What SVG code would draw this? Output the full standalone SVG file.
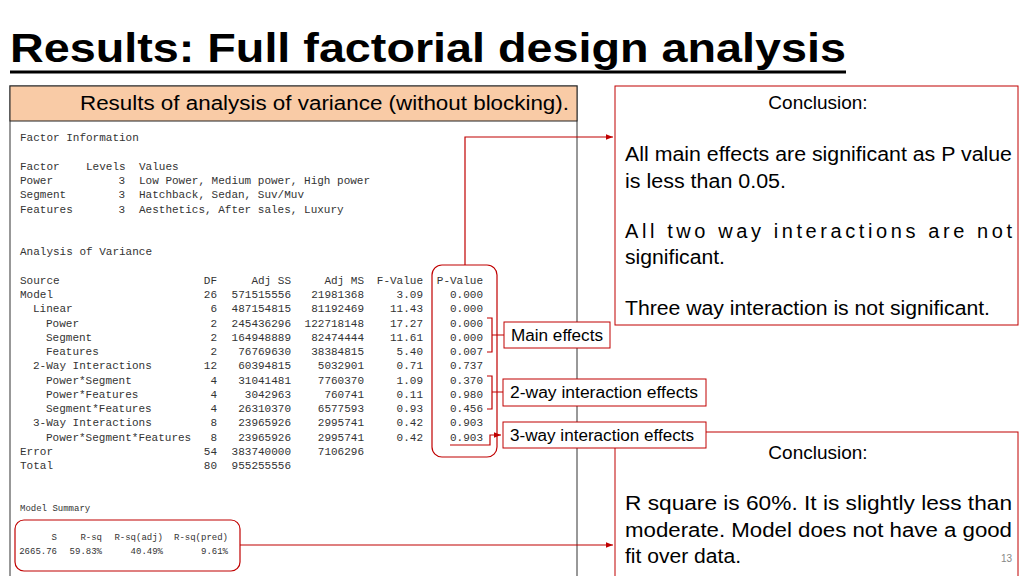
<svg xmlns="http://www.w3.org/2000/svg" width="1024" height="576" viewBox="0 0 1024 576">
<defs>
<marker id="ar" viewBox="0 0 10 10" refX="10" refY="5" markerWidth="6" markerHeight="6" orient="auto"><path d="M0,1 L10,5 L0,9 z" fill="#c00000"/></marker>
<style>
.m{font-family:"Liberation Mono",monospace;font-size:11px;fill:#333}
.ms{font-family:"Liberation Mono",monospace;font-size:9px;fill:#333}
.r{text-anchor:end}
.s{font-family:"Liberation Sans",Arial,sans-serif;fill:#000}
.ln{stroke:#c00000;stroke-width:1.2;fill:none}
.lb{fill:#fff;stroke:#c00000;stroke-width:1}
</style>
</defs>
<rect width="1024" height="576" fill="#fff"/>
<g id="title">
<text x="10" y="62" class="s" font-size="41" font-weight="bold" textLength="836" lengthAdjust="spacingAndGlyphs">Results: Full factorial design analysis</text>
<line x1="10" y1="72" x2="846" y2="72" stroke="#000" stroke-width="3"/>
</g>
<g id="panel">
<rect x="10" y="86" width="567" height="500" fill="#fff" stroke="#777" stroke-width="1.5"/>
<rect x="10" y="86" width="567" height="35" fill="#f9cba6" stroke="#222" stroke-width="1"/>
<text x="80" y="110" class="s" font-size="20" textLength="489" lengthAdjust="spacingAndGlyphs">Results of analysis of variance (without blocking).</text>
<g class="m">
<text x="20" y="141">Factor Information</text>
<text x="20" y="170">Factor</text><text x="86" y="170">Levels</text><text x="139" y="170">Values</text>
<text x="20" y="184">Power</text><text x="125" y="184" class="r">3</text><text x="139" y="184">Low Power, Medium power, High power</text>
<text x="20" y="198">Segment</text><text x="125" y="198" class="r">3</text><text x="139" y="198">Hatchback, Sedan, Suv/Muv</text>
<text x="20" y="213">Features</text><text x="125" y="213" class="r">3</text><text x="139" y="213">Aesthetics, After sales, Luxury</text>
<text x="20" y="255">Analysis of Variance</text>
</g>
<g class="m r">
<text x="20" y="284" text-anchor="start">Source</text><text x="217" y="284">DF</text><text x="291" y="284">Adj SS</text><text x="364" y="284">Adj MS</text><text x="423" y="284">F-Value</text><text x="483" y="284">P-Value</text>
<text x="20" y="298" text-anchor="start">Model</text><text x="217" y="298">26</text><text x="291" y="298">571515556</text><text x="364" y="298">21981368</text><text x="423" y="298">3.09</text><text x="483" y="298">0.000</text>
<text x="33" y="312" text-anchor="start">Linear</text><text x="217" y="312">6</text><text x="291" y="312">487154815</text><text x="364" y="312">81192469</text><text x="423" y="312">11.43</text><text x="483" y="312">0.000</text>
<text x="46" y="327" text-anchor="start">Power</text><text x="217" y="327">2</text><text x="291" y="327">245436296</text><text x="364" y="327">122718148</text><text x="423" y="327">17.27</text><text x="483" y="327">0.000</text>
<text x="46" y="341" text-anchor="start">Segment</text><text x="217" y="341">2</text><text x="291" y="341">164948889</text><text x="364" y="341">82474444</text><text x="423" y="341">11.61</text><text x="483" y="341">0.000</text>
<text x="46" y="355" text-anchor="start">Features</text><text x="217" y="355">2</text><text x="291" y="355">76769630</text><text x="364" y="355">38384815</text><text x="423" y="355">5.40</text><text x="483" y="355">0.007</text>
<text x="33" y="369" text-anchor="start">2-Way Interactions</text><text x="217" y="369">12</text><text x="291" y="369">60394815</text><text x="364" y="369">5032901</text><text x="423" y="369">0.71</text><text x="483" y="369">0.737</text>
<text x="46" y="384" text-anchor="start">Power*Segment</text><text x="217" y="384">4</text><text x="291" y="384">31041481</text><text x="364" y="384">7760370</text><text x="423" y="384">1.09</text><text x="483" y="384">0.370</text>
<text x="46" y="398" text-anchor="start">Power*Features</text><text x="217" y="398">4</text><text x="291" y="398">3042963</text><text x="364" y="398">760741</text><text x="423" y="398">0.11</text><text x="483" y="398">0.980</text>
<text x="46" y="412" text-anchor="start">Segment*Features</text><text x="217" y="412">4</text><text x="291" y="412">26310370</text><text x="364" y="412">6577593</text><text x="423" y="412">0.93</text><text x="483" y="412">0.456</text>
<text x="33" y="426" text-anchor="start">3-Way Interactions</text><text x="217" y="426">8</text><text x="291" y="426">23965926</text><text x="364" y="426">2995741</text><text x="423" y="426">0.42</text><text x="483" y="426">0.903</text>
<text x="46" y="441" text-anchor="start">Power*Segment*Features</text><text x="217" y="441">8</text><text x="291" y="441">23965926</text><text x="364" y="441">2995741</text><text x="423" y="441">0.42</text><text x="483" y="441">0.903</text>
<text x="20" y="455" text-anchor="start">Error</text><text x="217" y="455">54</text><text x="291" y="455">383740000</text><text x="364" y="455">7106296</text>
<text x="20" y="469" text-anchor="start">Total</text><text x="217" y="469">80</text><text x="291" y="469">955255556</text>
</g>
<text x="20" y="511" class="ms">Model Summary</text>
<g class="ms r">
<text x="57" y="540">S</text><text x="102" y="540">R-sq</text><text x="163" y="540">R-sq(adj)</text><text x="228" y="540">R-sq(pred)</text>
<text x="57" y="554">2665.76</text><text x="102" y="554">59.83%</text><text x="163" y="554">40.49%</text><text x="228" y="554">9.61%</text>
</g>
</g>
<g id="highlights">
<rect x="432" y="265" width="65" height="192" rx="10" class="ln"/>
<rect x="15" y="520" width="225" height="51" rx="9" class="ln"/>
</g>
<g id="conclusion1">
<rect x="615" y="86" width="403" height="239" class="lb"/>
<text x="818" y="109" class="s" font-size="19" text-anchor="middle">Conclusion:</text>
<text x="625" y="161" class="s" font-size="20" textLength="387" lengthAdjust="spacingAndGlyphs">All main effects are significant as P value</text>
<text x="625" y="188" class="s" font-size="20" textLength="161" lengthAdjust="spacingAndGlyphs">is less than 0.05.</text>
<text x="625" y="238" class="s" font-size="20" textLength="387" lengthAdjust="spacing">All  two  way  interactions  are  not</text>
<text x="625" y="264" class="s" font-size="20" textLength="100" lengthAdjust="spacingAndGlyphs">significant.</text>
<text x="625" y="315" class="s" font-size="20" textLength="365" lengthAdjust="spacingAndGlyphs">Three way interaction is not significant.</text>
</g>
<g id="conclusion2">
<rect x="615" y="432" width="403" height="150" class="lb"/>
<text x="818" y="459" class="s" font-size="19" text-anchor="middle">Conclusion:</text>
<text x="625" y="510" class="s" font-size="20" textLength="387" lengthAdjust="spacingAndGlyphs">R square is 60%. It is slightly less than</text>
<text x="625" y="537" class="s" font-size="20" textLength="387" lengthAdjust="spacingAndGlyphs">moderate. Model does not have a good</text>
<text x="625" y="563" class="s" font-size="20" textLength="116" lengthAdjust="spacingAndGlyphs">fit over data.</text>
<text x="1012" y="562" font-family="Liberation Sans, sans-serif" font-size="10" fill="#888" text-anchor="end">13</text>
</g>
<g id="connectors">
<path d="M465,265 V137 H613" class="ln" marker-end="url(#ar)"/>
<path d="M487,318 H492 V352 H487 M492,335 H504" class="ln"/>
<path d="M487,376 H492 V409 H487 M492,392 H503" class="ln"/>
<path d="M450,445 H490 V435 H501" class="ln" marker-end="url(#ar)"/>
<path d="M240,545 H613" class="ln" marker-end="url(#ar)"/>
</g>
<g id="label-main"><rect x="504" y="322" width="106" height="26" class="lb"/><text x="511" y="341" class="s" font-size="16" textLength="92" lengthAdjust="spacingAndGlyphs">Main effects</text></g>
<g id="label-2way"><rect x="503" y="379" width="203" height="27" class="lb"/><text x="510" y="398" class="s" font-size="16" textLength="188" lengthAdjust="spacingAndGlyphs">2-way interaction  effects</text></g>
<g id="label-3way"><rect x="503" y="422" width="203" height="26" class="lb"/><text x="510" y="441" class="s" font-size="16" textLength="184" lengthAdjust="spacingAndGlyphs">3-way interaction effects</text></g>
</svg>
